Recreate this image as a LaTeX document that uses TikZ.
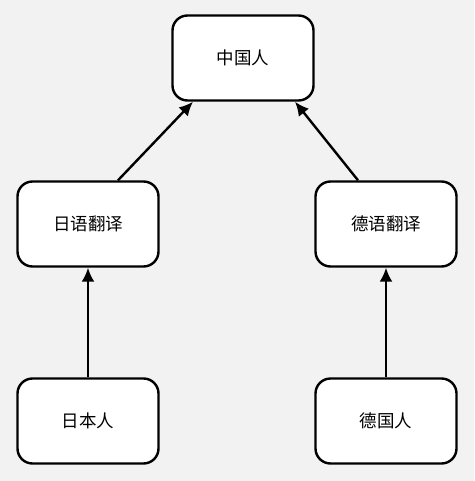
\documentclass[tikz,border=0pt]{standalone}
\usepackage{fontspec}
\setmainfont{Noto Sans CJK SC}
\usepackage{tikz}
\usetikzlibrary{arrows.meta}

\begin{document}
\begin{tikzpicture}[x=1pt, y=-1pt,
    box_node/.style={rectangle, rounded corners=15pt, draw, line width=2.4pt, fill=white,
        minimum width=141pt, minimum height=85pt, font=\fontsize{17.5}{20}\selectfont},
    link/.style={line width=2.4pt, -{Latex[length=14pt,width=13pt]}}]

    \fill[gray!10] (0,0) rectangle (474,481);
    \useasboundingbox (0,0) rectangle (474,481);

    \node[box_node] (zg) at (243, 58) {中国人};
    \node[box_node] (ry) at (88, 224) {日语翻译};
    \node[box_node] (dy) at (386, 224) {德语翻译};
    \node[box_node] (rb) at (88, 421) {日本人};
    \node[box_node] (dg) at (386, 421) {德国人};

    \draw[link] ([xshift=30pt]ry.north) -- ([xshift=-50pt]zg.south);
    \draw[link] ([xshift=-28pt]dy.north) -- ([xshift=52pt]zg.south);
    \draw[link] (rb) -- (ry);
    \draw[link] (dg) -- (dy);
\end{tikzpicture}
\end{document}
